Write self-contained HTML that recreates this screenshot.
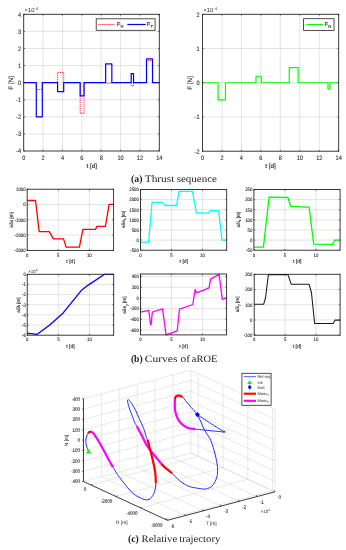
<!DOCTYPE html>
<html><head><meta charset="utf-8"><title>Figure</title>
<style>html,body{margin:0;padding:0;background:#fff;}svg{display:block;filter:blur(0.3px);}</style>
</head><body>
<svg width="346" height="550" viewBox="0 0 346 550" font-family="'Liberation Sans', Arial, sans-serif" text-rendering="geometricPrecision">
<rect width="346" height="550" fill="#fff"/>
<path d="M43.07 14.3V151M62.44 14.3V151M81.81 14.3V151M101.19 14.3V151M120.56 14.3V151M139.93 14.3V151M23.7 133.91H159.3M23.7 116.83H159.3M23.7 99.74H159.3M23.7 82.65H159.3M23.7 65.56H159.3M23.7 48.48H159.3M23.7 31.39H159.3" stroke="#d2d2d2" stroke-width="0.6" fill="none"/>
<path d="M23.7 82.65 L36.29 82.65 L36.29 89.49 L42.3 89.49 L42.3 82.65 L57.6 82.65 L57.6 72.4 L63.7 72.4 L63.7 82.65 L80.17 82.65 L80.17 113.41 L84.04 113.41 L84.04 82.65 L105.64 82.65 L105.64 83.16 L111.84 83.16 L111.84 82.65 L131.21 82.65 L131.21 86.07 L133.54 86.07 L133.54 82.65 L146.51 82.65 L146.51 60.44 L152.52 60.44 L152.52 82.65 L159.3 82.65" stroke="#ff0000" stroke-width="0.8" fill="none" stroke-linejoin="round" stroke-dasharray="1.2 0.8"/>
<path d="M23.7 82.65 L36.29 82.65 L36.29 116.83 L42.3 116.83 L42.3 82.65 L57.6 82.65 L57.6 91.54 L63.7 91.54 L63.7 82.65 L80.17 82.65 L80.17 95.81 L84.04 95.81 L84.04 82.65 L105.64 82.65 L105.64 63.85 L111.84 63.85 L111.84 82.65 L131.21 82.65 L131.21 73.59 L133.54 73.59 L133.54 82.65 L146.51 82.65 L146.51 58.9 L152.52 58.9 L152.52 82.65 L159.3 82.65" stroke="#0000ff" stroke-width="1.2" fill="none" stroke-linejoin="round" />
<path d="M23.7 151v-1.3M23.7 14.3v1.3M43.07 151v-1.3M43.07 14.3v1.3M62.44 151v-1.3M62.44 14.3v1.3M81.81 151v-1.3M81.81 14.3v1.3M101.19 151v-1.3M101.19 14.3v1.3M120.56 151v-1.3M120.56 14.3v1.3M139.93 151v-1.3M139.93 14.3v1.3M159.3 151v-1.3M159.3 14.3v1.3M23.7 151h1.3M159.3 151h-1.3M23.7 133.91h1.3M159.3 133.91h-1.3M23.7 116.83h1.3M159.3 116.83h-1.3M23.7 99.74h1.3M159.3 99.74h-1.3M23.7 82.65h1.3M159.3 82.65h-1.3M23.7 65.56h1.3M159.3 65.56h-1.3M23.7 48.48h1.3M159.3 48.48h-1.3M23.7 31.39h1.3M159.3 31.39h-1.3M23.7 14.3h1.3M159.3 14.3h-1.3" stroke="#262626" stroke-width="0.65" fill="none"/>
<rect x="23.7" y="14.3" width="135.6" height="136.7" stroke="#262626" stroke-width="0.9" fill="none"/>
<text transform="translate(21 153.31) scale(1 1.15)" font-size="5.6" text-anchor="end" fill="#262626" stroke="#262626" stroke-width="0.08">-4</text>
<text transform="translate(21 136.22) scale(1 1.15)" font-size="5.6" text-anchor="end" fill="#262626" stroke="#262626" stroke-width="0.08">-3</text>
<text transform="translate(21 119.13) scale(1 1.15)" font-size="5.6" text-anchor="end" fill="#262626" stroke="#262626" stroke-width="0.08">-2</text>
<text transform="translate(21 102.04) scale(1 1.15)" font-size="5.6" text-anchor="end" fill="#262626" stroke="#262626" stroke-width="0.08">-1</text>
<text transform="translate(21 84.96) scale(1 1.15)" font-size="5.6" text-anchor="end" fill="#262626" stroke="#262626" stroke-width="0.08">0</text>
<text transform="translate(21 67.87) scale(1 1.15)" font-size="5.6" text-anchor="end" fill="#262626" stroke="#262626" stroke-width="0.08">1</text>
<text transform="translate(21 50.78) scale(1 1.15)" font-size="5.6" text-anchor="end" fill="#262626" stroke="#262626" stroke-width="0.08">2</text>
<text transform="translate(21 33.69) scale(1 1.15)" font-size="5.6" text-anchor="end" fill="#262626" stroke="#262626" stroke-width="0.08">3</text>
<text transform="translate(21 16.61) scale(1 1.15)" font-size="5.6" text-anchor="end" fill="#262626" stroke="#262626" stroke-width="0.08">4</text>
<text transform="translate(23.7 159.91) scale(1 1.15)" font-size="5.6" text-anchor="middle" fill="#262626" stroke="#262626" stroke-width="0.08">0</text>
<text transform="translate(43.07 159.91) scale(1 1.15)" font-size="5.6" text-anchor="middle" fill="#262626" stroke="#262626" stroke-width="0.08">2</text>
<text transform="translate(62.44 159.91) scale(1 1.15)" font-size="5.6" text-anchor="middle" fill="#262626" stroke="#262626" stroke-width="0.08">4</text>
<text transform="translate(81.81 159.91) scale(1 1.15)" font-size="5.6" text-anchor="middle" fill="#262626" stroke="#262626" stroke-width="0.08">6</text>
<text transform="translate(101.19 159.91) scale(1 1.15)" font-size="5.6" text-anchor="middle" fill="#262626" stroke="#262626" stroke-width="0.08">8</text>
<text transform="translate(120.56 159.91) scale(1 1.15)" font-size="5.6" text-anchor="middle" fill="#262626" stroke="#262626" stroke-width="0.08">10</text>
<text transform="translate(139.93 159.91) scale(1 1.15)" font-size="5.6" text-anchor="middle" fill="#262626" stroke="#262626" stroke-width="0.08">12</text>
<text transform="translate(159.3 159.91) scale(1 1.15)" font-size="5.6" text-anchor="middle" fill="#262626" stroke="#262626" stroke-width="0.08">14</text>
<text x="24.6" y="11.9" font-size="5.8" fill="#262626">&#215;10<tspan dy="-2.2" font-size="4.2">-4</tspan></text>
<text transform="translate(13.3 82.8) rotate(-90)" font-size="6.3" text-anchor="middle" fill="#262626" stroke="#262626" stroke-width="0.12">F [N]</text>
<text x="91.7" y="168.3" font-size="6.2" text-anchor="middle" fill="#262626" stroke="#262626" stroke-width="0.12">t [d]</text>
<rect x="96.2" y="18.8" width="58.9" height="11.5" fill="#fff" stroke="#262626" stroke-width="0.8"/>
<path d="M98.2 24.5 L114.7 24.5" stroke="#ff0000" stroke-width="0.8" fill="none" stroke-linejoin="round" stroke-dasharray="1.2 0.8"/>
<text x="116.9" y="26.0" font-size="5.9" fill="#262626" stroke="#262626" stroke-width="0.1">F<tspan dy="1.7" font-size="4.3">R</tspan></text>
<path d="M127.4 24.5 L145.8 24.5" stroke="#0000ff" stroke-width="1.2" fill="none" stroke-linejoin="round" />
<text x="146.8" y="26.0" font-size="5.9" fill="#262626" stroke="#262626" stroke-width="0.1">F<tspan dy="1.7" font-size="4.3">T</tspan></text>
<path d="M221.96 14.3V151.2M241.41 14.3V151.2M260.87 14.3V151.2M280.33 14.3V151.2M299.79 14.3V151.2M319.24 14.3V151.2M202.5 116.97H338.7M202.5 82.75H338.7M202.5 48.53H338.7" stroke="#d2d2d2" stroke-width="0.6" fill="none"/>
<path d="M202.5 82.75 L218.07 82.75 L218.07 99.86 L225.46 99.86 L225.46 82.75 L256.01 82.75 L256.01 76.25 L261.26 76.25 L261.26 82.75 L289.28 82.75 L289.28 67.69 L298.13 67.69 L298.13 82.75 L328 82.75 L328 89.25 L329.94 89.25 L329.94 82.75 L338.7 82.75" stroke="#00ff00" stroke-width="1.2" fill="none" stroke-linejoin="round" />
<path d="M202.5 151.2v-1.3M202.5 14.3v1.3M221.96 151.2v-1.3M221.96 14.3v1.3M241.41 151.2v-1.3M241.41 14.3v1.3M260.87 151.2v-1.3M260.87 14.3v1.3M280.33 151.2v-1.3M280.33 14.3v1.3M299.79 151.2v-1.3M299.79 14.3v1.3M319.24 151.2v-1.3M319.24 14.3v1.3M338.7 151.2v-1.3M338.7 14.3v1.3M202.5 151.2h1.3M338.7 151.2h-1.3M202.5 116.97h1.3M338.7 116.97h-1.3M202.5 82.75h1.3M338.7 82.75h-1.3M202.5 48.53h1.3M338.7 48.53h-1.3M202.5 14.3h1.3M338.7 14.3h-1.3" stroke="#262626" stroke-width="0.65" fill="none"/>
<rect x="202.5" y="14.3" width="136.2" height="136.9" stroke="#262626" stroke-width="0.9" fill="none"/>
<text transform="translate(199.6 153.51) scale(1 1.15)" font-size="5.6" text-anchor="end" fill="#262626" stroke="#262626" stroke-width="0.08">-2</text>
<text transform="translate(199.6 119.28) scale(1 1.15)" font-size="5.6" text-anchor="end" fill="#262626" stroke="#262626" stroke-width="0.08">-1</text>
<text transform="translate(199.6 85.06) scale(1 1.15)" font-size="5.6" text-anchor="end" fill="#262626" stroke="#262626" stroke-width="0.08">0</text>
<text transform="translate(199.6 50.83) scale(1 1.15)" font-size="5.6" text-anchor="end" fill="#262626" stroke="#262626" stroke-width="0.08">1</text>
<text transform="translate(199.6 16.61) scale(1 1.15)" font-size="5.6" text-anchor="end" fill="#262626" stroke="#262626" stroke-width="0.08">2</text>
<text transform="translate(202.5 160.21) scale(1 1.15)" font-size="5.6" text-anchor="middle" fill="#262626" stroke="#262626" stroke-width="0.08">0</text>
<text transform="translate(221.96 160.21) scale(1 1.15)" font-size="5.6" text-anchor="middle" fill="#262626" stroke="#262626" stroke-width="0.08">2</text>
<text transform="translate(241.41 160.21) scale(1 1.15)" font-size="5.6" text-anchor="middle" fill="#262626" stroke="#262626" stroke-width="0.08">4</text>
<text transform="translate(260.87 160.21) scale(1 1.15)" font-size="5.6" text-anchor="middle" fill="#262626" stroke="#262626" stroke-width="0.08">6</text>
<text transform="translate(280.33 160.21) scale(1 1.15)" font-size="5.6" text-anchor="middle" fill="#262626" stroke="#262626" stroke-width="0.08">8</text>
<text transform="translate(299.79 160.21) scale(1 1.15)" font-size="5.6" text-anchor="middle" fill="#262626" stroke="#262626" stroke-width="0.08">10</text>
<text transform="translate(319.24 160.21) scale(1 1.15)" font-size="5.6" text-anchor="middle" fill="#262626" stroke="#262626" stroke-width="0.08">12</text>
<text transform="translate(338.7 160.21) scale(1 1.15)" font-size="5.6" text-anchor="middle" fill="#262626" stroke="#262626" stroke-width="0.08">14</text>
<text x="203.4" y="11.9" font-size="5.8" fill="#262626">&#215;10<tspan dy="-2.2" font-size="4.2">-4</tspan></text>
<text transform="translate(191.6 82.9) rotate(-90)" font-size="6.3" text-anchor="middle" fill="#262626" stroke="#262626" stroke-width="0.12">F [N]</text>
<text x="270.5" y="168.3" font-size="6.2" text-anchor="middle" fill="#262626" stroke="#262626" stroke-width="0.12">t [d]</text>
<rect x="303.6" y="18.7" width="30.4" height="11.7" fill="#fff" stroke="#262626" stroke-width="0.8"/>
<path d="M306.2 24.5 L323.1 24.5" stroke="#00ff00" stroke-width="1.2" fill="none" stroke-linejoin="round" />
<text x="324.6" y="26.0" font-size="5.9" fill="#262626" stroke="#262626" stroke-width="0.1">F<tspan dy="1.7" font-size="4.3">N</tspan></text>
<text x="131" y="181.5" font-family="'Liberation Serif', 'Times New Roman', serif" font-size="10" fill="#1c1c1c" stroke="#1c1c1c" stroke-width="0" textLength="11.4" lengthAdjust="spacingAndGlyphs" font-weight="bold">(a)</text>
<text x="144.7" y="181.5" font-family="'Liberation Serif', 'Times New Roman', serif" font-size="10" fill="#1c1c1c" stroke="#1c1c1c" stroke-width="0" textLength="29.7" lengthAdjust="spacingAndGlyphs">Thrust</text>
<text x="176.7" y="181.5" font-family="'Liberation Serif', 'Times New Roman', serif" font-size="10" fill="#1c1c1c" stroke="#1c1c1c" stroke-width="0" textLength="40.3" lengthAdjust="spacingAndGlyphs">sequence</text>
<path d="M58.28 189.2V250.4M89.36 189.2V250.4M27.2 235.1H113.6M27.2 219.8H113.6M27.2 204.5H113.6" stroke="#d2d2d2" stroke-width="0.6" fill="none"/>
<path d="M27.2 200.5 L35.5 200.5 L39.2 231.6 L49.2 231.6 L53.4 238.9 L63.5 238.9 L66.1 247.1 L79.4 247.1 L82.9 229.4 L95.5 229.4 L96.9 226.3 L105.4 226.3 L109.1 204.3 L113.6 204.3" stroke="#ff0000" stroke-width="1.3" fill="none" stroke-linejoin="round" />
<path d="M27.2 250.4v-1.3M27.2 189.2v1.3M58.28 250.4v-1.3M58.28 189.2v1.3M89.36 250.4v-1.3M89.36 189.2v1.3M27.2 250.4h1.3M113.6 250.4h-1.3M27.2 235.1h1.3M113.6 235.1h-1.3M27.2 219.8h1.3M113.6 219.8h-1.3M27.2 204.5h1.3M113.6 204.5h-1.3M27.2 189.2h1.3M113.6 189.2h-1.3" stroke="#262626" stroke-width="0.65" fill="none"/>
<rect x="27.2" y="189.2" width="86.4" height="61.2" stroke="#262626" stroke-width="0.9" fill="none"/>
<text transform="translate(25.6 252.17) scale(1 1.15)" font-size="4.3" text-anchor="end" fill="#262626" stroke="#262626" stroke-width="0.08">-3000</text>
<text transform="translate(25.6 236.87) scale(1 1.15)" font-size="4.3" text-anchor="end" fill="#262626" stroke="#262626" stroke-width="0.08">-2000</text>
<text transform="translate(25.6 221.57) scale(1 1.15)" font-size="4.3" text-anchor="end" fill="#262626" stroke="#262626" stroke-width="0.08">-1000</text>
<text transform="translate(25.6 206.27) scale(1 1.15)" font-size="4.3" text-anchor="end" fill="#262626" stroke="#262626" stroke-width="0.08">0</text>
<text transform="translate(25.6 190.97) scale(1 1.15)" font-size="4.3" text-anchor="end" fill="#262626" stroke="#262626" stroke-width="0.08">1000</text>
<text transform="translate(27.2 256.87) scale(1 1.15)" font-size="4.3" text-anchor="middle" fill="#262626" stroke="#262626" stroke-width="0.08">0</text>
<text transform="translate(58.28 256.87) scale(1 1.15)" font-size="4.3" text-anchor="middle" fill="#262626" stroke="#262626" stroke-width="0.08">5</text>
<text transform="translate(89.36 256.87) scale(1 1.15)" font-size="4.3" text-anchor="middle" fill="#262626" stroke="#262626" stroke-width="0.08">10</text>
<text transform="translate(12.8 219.9) rotate(-90)" font-size="4.7" text-anchor="middle" fill="#262626" stroke="#262626" stroke-width="0.12">a&#948;a [m]</text>
<text x="70.6" y="262.8" font-size="5.1" text-anchor="middle" fill="#262626" stroke="#262626" stroke-width="0.12">t [d]</text>
<path d="M171.51 189.5V250.2M202.51 189.5V250.2M140.5 240.08H226.7M140.5 229.97H226.7M140.5 219.85H226.7M140.5 209.73H226.7M140.5 199.62H226.7" stroke="#d2d2d2" stroke-width="0.6" fill="none"/>
<path d="M140.5 242.2 L148.6 242.2 L152.1 202.3 L162.5 202.3 L164.7 205.5 L176.6 205.5 L179 191.4 L192.5 191.4 L196.4 213.1 L208.5 213.1 L210.4 210.7 L218.6 210.7 L222 240.1 L226.7 240.1" stroke="#00ffff" stroke-width="1.3" fill="none" stroke-linejoin="round" />
<path d="M140.5 250.2v-1.3M140.5 189.5v1.3M171.51 250.2v-1.3M171.51 189.5v1.3M202.51 250.2v-1.3M202.51 189.5v1.3M140.5 250.2h1.3M226.7 250.2h-1.3M140.5 240.08h1.3M226.7 240.08h-1.3M140.5 229.97h1.3M226.7 229.97h-1.3M140.5 219.85h1.3M226.7 219.85h-1.3M140.5 209.73h1.3M226.7 209.73h-1.3M140.5 199.62h1.3M226.7 199.62h-1.3M140.5 189.5h1.3M226.7 189.5h-1.3" stroke="#262626" stroke-width="0.65" fill="none"/>
<rect x="140.5" y="189.5" width="86.2" height="60.7" stroke="#262626" stroke-width="0.9" fill="none"/>
<text transform="translate(138.9 251.97) scale(1 1.15)" font-size="4.3" text-anchor="end" fill="#262626" stroke="#262626" stroke-width="0.08">-500</text>
<text transform="translate(138.9 241.85) scale(1 1.15)" font-size="4.3" text-anchor="end" fill="#262626" stroke="#262626" stroke-width="0.08">0</text>
<text transform="translate(138.9 231.74) scale(1 1.15)" font-size="4.3" text-anchor="end" fill="#262626" stroke="#262626" stroke-width="0.08">500</text>
<text transform="translate(138.9 221.62) scale(1 1.15)" font-size="4.3" text-anchor="end" fill="#262626" stroke="#262626" stroke-width="0.08">1000</text>
<text transform="translate(138.9 211.5) scale(1 1.15)" font-size="4.3" text-anchor="end" fill="#262626" stroke="#262626" stroke-width="0.08">1500</text>
<text transform="translate(138.9 201.39) scale(1 1.15)" font-size="4.3" text-anchor="end" fill="#262626" stroke="#262626" stroke-width="0.08">2000</text>
<text transform="translate(138.9 191.27) scale(1 1.15)" font-size="4.3" text-anchor="end" fill="#262626" stroke="#262626" stroke-width="0.08">2500</text>
<text transform="translate(140.5 256.87) scale(1 1.15)" font-size="4.3" text-anchor="middle" fill="#262626" stroke="#262626" stroke-width="0.08">0</text>
<text transform="translate(171.51 256.87) scale(1 1.15)" font-size="4.3" text-anchor="middle" fill="#262626" stroke="#262626" stroke-width="0.08">5</text>
<text transform="translate(202.51 256.87) scale(1 1.15)" font-size="4.3" text-anchor="middle" fill="#262626" stroke="#262626" stroke-width="0.08">10</text>
<text transform="translate(124.8 219.4) rotate(-90)" font-size="4.7" text-anchor="middle" fill="#262626" stroke="#262626" stroke-width="0.12">a&#948;e<tspan dy="1.4" font-size="3.3">x</tspan><tspan dy="-1.4"> [m]</tspan></text>
<text x="183.8" y="262.8" font-size="5.1" text-anchor="middle" fill="#262626" stroke="#262626" stroke-width="0.12">t [d]</text>
<path d="M284.91 189.5V250.2M315.91 189.5V250.2M253.9 240.08H340.1M253.9 229.97H340.1M253.9 219.85H340.1M253.9 209.73H340.1M253.9 199.62H340.1" stroke="#d2d2d2" stroke-width="0.6" fill="none"/>
<path d="M253.9 247.1 L263.4 247.1 L269.1 197.1 L287.9 197.5 L290.7 206.3 L309.1 207.2 L313.7 244.1 L332.8 244.3 L334.6 240.1 L340.1 240.1" stroke="#00ff00" stroke-width="1.3" fill="none" stroke-linejoin="round" />
<path d="M253.9 250.2v-1.3M253.9 189.5v1.3M284.91 250.2v-1.3M284.91 189.5v1.3M315.91 250.2v-1.3M315.91 189.5v1.3M253.9 250.2h1.3M340.1 250.2h-1.3M253.9 240.08h1.3M340.1 240.08h-1.3M253.9 229.97h1.3M340.1 229.97h-1.3M253.9 219.85h1.3M340.1 219.85h-1.3M253.9 209.73h1.3M340.1 209.73h-1.3M253.9 199.62h1.3M340.1 199.62h-1.3M253.9 189.5h1.3M340.1 189.5h-1.3" stroke="#262626" stroke-width="0.65" fill="none"/>
<rect x="253.9" y="189.5" width="86.2" height="60.7" stroke="#262626" stroke-width="0.9" fill="none"/>
<text transform="translate(252.3 251.97) scale(1 1.15)" font-size="4.3" text-anchor="end" fill="#262626" stroke="#262626" stroke-width="0.08">-50</text>
<text transform="translate(252.3 241.85) scale(1 1.15)" font-size="4.3" text-anchor="end" fill="#262626" stroke="#262626" stroke-width="0.08">0</text>
<text transform="translate(252.3 231.74) scale(1 1.15)" font-size="4.3" text-anchor="end" fill="#262626" stroke="#262626" stroke-width="0.08">50</text>
<text transform="translate(252.3 221.62) scale(1 1.15)" font-size="4.3" text-anchor="end" fill="#262626" stroke="#262626" stroke-width="0.08">100</text>
<text transform="translate(252.3 211.5) scale(1 1.15)" font-size="4.3" text-anchor="end" fill="#262626" stroke="#262626" stroke-width="0.08">150</text>
<text transform="translate(252.3 201.39) scale(1 1.15)" font-size="4.3" text-anchor="end" fill="#262626" stroke="#262626" stroke-width="0.08">200</text>
<text transform="translate(252.3 191.27) scale(1 1.15)" font-size="4.3" text-anchor="end" fill="#262626" stroke="#262626" stroke-width="0.08">250</text>
<text transform="translate(253.9 256.87) scale(1 1.15)" font-size="4.3" text-anchor="middle" fill="#262626" stroke="#262626" stroke-width="0.08">0</text>
<text transform="translate(284.91 256.87) scale(1 1.15)" font-size="4.3" text-anchor="middle" fill="#262626" stroke="#262626" stroke-width="0.08">5</text>
<text transform="translate(315.91 256.87) scale(1 1.15)" font-size="4.3" text-anchor="middle" fill="#262626" stroke="#262626" stroke-width="0.08">10</text>
<text transform="translate(239.9 219.7) rotate(-90)" font-size="4.7" text-anchor="middle" fill="#262626" stroke="#262626" stroke-width="0.12">a&#948;i<tspan dy="1.4" font-size="3.3">x</tspan><tspan dy="-1.4"> [m]</tspan></text>
<text x="297.2" y="262.8" font-size="5.1" text-anchor="middle" fill="#262626" stroke="#262626" stroke-width="0.12">t [d]</text>
<path d="M58.32 274.3V335.2M89.43 274.3V335.2M27.2 325.05H113.7M27.2 314.9H113.7M27.2 304.75H113.7M27.2 294.6H113.7M27.2 284.45H113.7" stroke="#d2d2d2" stroke-width="0.6" fill="none"/>
<path d="M27.2 333.1 L36.9 334.4 L50 324.7 L63.2 312.9 L81.4 290.3 L89 284.6 L104.6 274.3 L113.7 274.3" stroke="#0000ff" stroke-width="1.3" fill="none" stroke-linejoin="round" />
<path d="M27.2 335.2v-1.3M27.2 274.3v1.3M58.32 335.2v-1.3M58.32 274.3v1.3M89.43 335.2v-1.3M89.43 274.3v1.3M27.2 335.2h1.3M113.7 335.2h-1.3M27.2 325.05h1.3M113.7 325.05h-1.3M27.2 314.9h1.3M113.7 314.9h-1.3M27.2 304.75h1.3M113.7 304.75h-1.3M27.2 294.6h1.3M113.7 294.6h-1.3M27.2 284.45h1.3M113.7 284.45h-1.3M27.2 274.3h1.3M113.7 274.3h-1.3" stroke="#262626" stroke-width="0.65" fill="none"/>
<rect x="27.2" y="274.3" width="86.5" height="60.9" stroke="#262626" stroke-width="0.9" fill="none"/>
<text transform="translate(25.8 336.97) scale(1 1.15)" font-size="4.3" text-anchor="end" fill="#262626" stroke="#262626" stroke-width="0.08">-6</text>
<text transform="translate(25.8 326.82) scale(1 1.15)" font-size="4.3" text-anchor="end" fill="#262626" stroke="#262626" stroke-width="0.08">-5</text>
<text transform="translate(25.8 316.67) scale(1 1.15)" font-size="4.3" text-anchor="end" fill="#262626" stroke="#262626" stroke-width="0.08">-4</text>
<text transform="translate(25.8 306.52) scale(1 1.15)" font-size="4.3" text-anchor="end" fill="#262626" stroke="#262626" stroke-width="0.08">-3</text>
<text transform="translate(25.8 296.37) scale(1 1.15)" font-size="4.3" text-anchor="end" fill="#262626" stroke="#262626" stroke-width="0.08">-2</text>
<text transform="translate(25.8 286.22) scale(1 1.15)" font-size="4.3" text-anchor="end" fill="#262626" stroke="#262626" stroke-width="0.08">-1</text>
<text transform="translate(25.8 276.07) scale(1 1.15)" font-size="4.3" text-anchor="end" fill="#262626" stroke="#262626" stroke-width="0.08">0</text>
<text transform="translate(27.2 341.47) scale(1 1.15)" font-size="4.3" text-anchor="middle" fill="#262626" stroke="#262626" stroke-width="0.08">0</text>
<text transform="translate(58.32 341.47) scale(1 1.15)" font-size="4.3" text-anchor="middle" fill="#262626" stroke="#262626" stroke-width="0.08">5</text>
<text transform="translate(89.43 341.47) scale(1 1.15)" font-size="4.3" text-anchor="middle" fill="#262626" stroke="#262626" stroke-width="0.08">10</text>
<text transform="translate(20.4 305) rotate(-90)" font-size="4.7" text-anchor="middle" fill="#262626" stroke="#262626" stroke-width="0.12">a&#948;&#955; [m]</text>
<text x="70.4" y="347.6" font-size="5.1" text-anchor="middle" fill="#262626" stroke="#262626" stroke-width="0.12">t [d]</text>
<text x="28.2" y="273.0" font-size="4.5" fill="#262626">&#215;10<tspan dy="-1.8" font-size="3.4">4</tspan></text>
<path d="M171.47 274V334.9M202.44 274V334.9M140.5 329.99H226.6M140.5 319.31H226.6M140.5 308.64H226.6M140.5 297.97H226.6M140.5 287.29H226.6M140.5 276.62H226.6" stroke="#d2d2d2" stroke-width="0.6" fill="none"/>
<path d="M140.5 312.2 L148.8 310.3 L149.6 316.5 L150.2 322.5 L150.8 325 L151.4 322.5 L151.9 316 L152.4 312 L162.5 308.9 L166.1 334.9 L177.2 330.8 L179.5 309.1 L192.8 304.5 L195.1 289.4 L196.6 292.8 L209.1 287.9 L210.5 279.1 L219.1 274.2 L222.3 299.4 L226.6 297.9" stroke="#ff00ff" stroke-width="1.3" fill="none" stroke-linejoin="round" />
<path d="M140.5 334.9v-1.3M140.5 274v1.3M171.47 334.9v-1.3M171.47 274v1.3M202.44 334.9v-1.3M202.44 274v1.3M140.5 329.99h1.3M226.6 329.99h-1.3M140.5 319.31h1.3M226.6 319.31h-1.3M140.5 308.64h1.3M226.6 308.64h-1.3M140.5 297.97h1.3M226.6 297.97h-1.3M140.5 287.29h1.3M226.6 287.29h-1.3M140.5 276.62h1.3M226.6 276.62h-1.3" stroke="#262626" stroke-width="0.65" fill="none"/>
<rect x="140.5" y="274" width="86.1" height="60.9" stroke="#262626" stroke-width="0.9" fill="none"/>
<text transform="translate(138.9 331.76) scale(1 1.15)" font-size="4.3" text-anchor="end" fill="#262626" stroke="#262626" stroke-width="0.08">-600</text>
<text transform="translate(138.9 321.09) scale(1 1.15)" font-size="4.3" text-anchor="end" fill="#262626" stroke="#262626" stroke-width="0.08">-400</text>
<text transform="translate(138.9 310.41) scale(1 1.15)" font-size="4.3" text-anchor="end" fill="#262626" stroke="#262626" stroke-width="0.08">-200</text>
<text transform="translate(138.9 299.74) scale(1 1.15)" font-size="4.3" text-anchor="end" fill="#262626" stroke="#262626" stroke-width="0.08">0</text>
<text transform="translate(138.9 289.06) scale(1 1.15)" font-size="4.3" text-anchor="end" fill="#262626" stroke="#262626" stroke-width="0.08">200</text>
<text transform="translate(138.9 278.39) scale(1 1.15)" font-size="4.3" text-anchor="end" fill="#262626" stroke="#262626" stroke-width="0.08">400</text>
<text transform="translate(140.5 341.47) scale(1 1.15)" font-size="4.3" text-anchor="middle" fill="#262626" stroke="#262626" stroke-width="0.08">0</text>
<text transform="translate(171.47 341.47) scale(1 1.15)" font-size="4.3" text-anchor="middle" fill="#262626" stroke="#262626" stroke-width="0.08">5</text>
<text transform="translate(202.44 341.47) scale(1 1.15)" font-size="4.3" text-anchor="middle" fill="#262626" stroke="#262626" stroke-width="0.08">10</text>
<text transform="translate(126.4 305.2) rotate(-90)" font-size="4.7" text-anchor="middle" fill="#262626" stroke="#262626" stroke-width="0.12">a&#948;e<tspan dy="1.4" font-size="3.3">y</tspan><tspan dy="-1.4"> [m]</tspan></text>
<text x="183.6" y="347.6" font-size="5.1" text-anchor="middle" fill="#262626" stroke="#262626" stroke-width="0.12">t [d]</text>
<path d="M285.1 274.3V335.2M316 274.3V335.2M254.2 319.98H340.1M254.2 304.75H340.1M254.2 289.52H340.1" stroke="#d2d2d2" stroke-width="0.6" fill="none"/>
<path d="M254.2 304.2 L263.7 304.2 L265.5 298 L268.4 274.6 L288 274.6 L291.1 284.2 L309.1 284.2 L311.5 293 L314.6 323.4 L333.2 323.4 L335.1 320.1 L340.1 320.1" stroke="#1a1a1a" stroke-width="1.05" fill="none" stroke-linejoin="round" />
<path d="M254.2 335.2v-1.3M254.2 274.3v1.3M285.1 335.2v-1.3M285.1 274.3v1.3M316 335.2v-1.3M316 274.3v1.3M254.2 335.2h1.3M340.1 335.2h-1.3M254.2 319.98h1.3M340.1 319.98h-1.3M254.2 304.75h1.3M340.1 304.75h-1.3M254.2 289.52h1.3M340.1 289.52h-1.3M254.2 274.3h1.3M340.1 274.3h-1.3" stroke="#262626" stroke-width="0.65" fill="none"/>
<rect x="254.2" y="274.3" width="85.9" height="60.9" stroke="#262626" stroke-width="0.9" fill="none"/>
<text transform="translate(252.3 336.97) scale(1 1.15)" font-size="4.3" text-anchor="end" fill="#262626" stroke="#262626" stroke-width="0.08">-100</text>
<text transform="translate(252.3 321.75) scale(1 1.15)" font-size="4.3" text-anchor="end" fill="#262626" stroke="#262626" stroke-width="0.08">0</text>
<text transform="translate(252.3 306.52) scale(1 1.15)" font-size="4.3" text-anchor="end" fill="#262626" stroke="#262626" stroke-width="0.08">100</text>
<text transform="translate(252.3 291.3) scale(1 1.15)" font-size="4.3" text-anchor="end" fill="#262626" stroke="#262626" stroke-width="0.08">200</text>
<text transform="translate(252.3 276.07) scale(1 1.15)" font-size="4.3" text-anchor="end" fill="#262626" stroke="#262626" stroke-width="0.08">300</text>
<text transform="translate(254.2 341.47) scale(1 1.15)" font-size="4.3" text-anchor="middle" fill="#262626" stroke="#262626" stroke-width="0.08">0</text>
<text transform="translate(285.1 341.47) scale(1 1.15)" font-size="4.3" text-anchor="middle" fill="#262626" stroke="#262626" stroke-width="0.08">5</text>
<text transform="translate(316 341.47) scale(1 1.15)" font-size="4.3" text-anchor="middle" fill="#262626" stroke="#262626" stroke-width="0.08">10</text>
<text transform="translate(238.5 304.4) rotate(-90)" font-size="4.7" text-anchor="middle" fill="#262626" stroke="#262626" stroke-width="0.12">a&#948;i<tspan dy="1.4" font-size="3.3">y</tspan><tspan dy="-1.4"> [m]</tspan></text>
<text x="297" y="347.6" font-size="5.1" text-anchor="middle" fill="#262626" stroke="#262626" stroke-width="0.12">t [d]</text>
<text x="130.9" y="361.8" font-family="'Liberation Serif', 'Times New Roman', serif" font-size="10" fill="#1c1c1c" stroke="#1c1c1c" stroke-width="0" textLength="11.7" lengthAdjust="spacingAndGlyphs" font-weight="bold">(b)</text>
<text x="144.7" y="361.8" font-family="'Liberation Serif', 'Times New Roman', serif" font-size="10" fill="#1c1c1c" stroke="#1c1c1c" stroke-width="0" textLength="32.8" lengthAdjust="spacingAndGlyphs">Curves</text>
<text x="180.6" y="361.8" font-family="'Liberation Serif', 'Times New Roman', serif" font-size="10" fill="#1c1c1c" stroke="#1c1c1c" stroke-width="0" textLength="9.6" lengthAdjust="spacingAndGlyphs">of</text>
<text x="191.8" y="361.8" font-family="'Liberation Serif', 'Times New Roman', serif" font-size="10" fill="#1c1c1c" stroke="#1c1c1c" stroke-width="0" textLength="25.6" lengthAdjust="spacingAndGlyphs">aROE</text>
<path d="M101.4 476.75L101.4 393.95M119.3 472L119.3 389.2M137.2 467.25L137.2 384.45M155.1 462.5L155.1 379.7M173 457.75L173 374.95M190.9 453L190.9 370.2M83.5 481.5L190.9 453M83.5 471.15L190.9 442.65M83.5 460.8L190.9 432.3M83.5 450.45L190.9 421.95M83.5 440.1L190.9 411.6M83.5 429.75L190.9 401.25M83.5 419.4L190.9 390.9M83.5 409.05L190.9 380.55M83.5 398.7L190.9 370.2M198.29 456.41L198.29 373.61M223.07 467.86L223.07 385.06M247.85 479.31L247.85 396.51M272.63 490.75L272.63 407.95M190.9 453L274.9 491.8M190.9 442.65L274.9 481.45M190.9 432.3L274.9 471.1M190.9 421.95L274.9 460.75M190.9 411.6L274.9 450.4M190.9 401.25L274.9 440.05M190.9 390.9L274.9 429.7M190.9 380.55L274.9 419.35M190.9 370.2L274.9 409M274.9 491.8L274.9 409M101.4 476.75L185.4 515.55M119.3 472L203.3 510.8M137.2 467.25L221.2 506.05M155.1 462.5L239.1 501.3M173 457.75L257 496.55M190.9 453L274.9 491.8M90.89 484.91L198.29 456.41M115.67 496.36L223.07 467.86M140.45 507.81L247.85 479.31M165.23 519.25L272.63 490.75" stroke="#d2d2d2" stroke-width="0.5" fill="none"/>
<path d="M83.5 398.7L83.5 481.5M83.5 481.5L167.5 520.3L274.9 491.8" stroke="#262626" stroke-width="0.9" fill="none" stroke-linejoin="round"/>
<path d="M83.5 481.5h-1.4M83.5 471.15h-1.4M83.5 460.8h-1.4M83.5 450.45h-1.4M83.5 440.1h-1.4M83.5 429.75h-1.4M83.5 419.4h-1.4M83.5 409.05h-1.4M83.5 398.7h-1.4M90.89 484.91l1.5 -0.4M115.67 496.36l1.5 -0.4M140.45 507.81l1.5 -0.4M165.23 519.25l1.5 -0.4M167.5 520.3l-0.7 -1.4M185.4 515.55l-0.7 -1.4M203.3 510.8l-0.7 -1.4M221.2 506.05l-0.7 -1.4M239.1 501.3l-0.7 -1.4M257 496.55l-0.7 -1.4M274.9 491.8l-0.7 -1.4" stroke="#262626" stroke-width="0.7" fill="none"/>
<text transform="translate(80.1 483.35) scale(1 1.15)" font-size="4.5" text-anchor="end" fill="#262626" stroke="#262626" stroke-width="0.08">-400</text>
<text transform="translate(80.1 473) scale(1 1.15)" font-size="4.5" text-anchor="end" fill="#262626" stroke="#262626" stroke-width="0.08">-300</text>
<text transform="translate(80.1 462.65) scale(1 1.15)" font-size="4.5" text-anchor="end" fill="#262626" stroke="#262626" stroke-width="0.08">-200</text>
<text transform="translate(80.1 452.3) scale(1 1.15)" font-size="4.5" text-anchor="end" fill="#262626" stroke="#262626" stroke-width="0.08">-100</text>
<text transform="translate(80.1 441.95) scale(1 1.15)" font-size="4.5" text-anchor="end" fill="#262626" stroke="#262626" stroke-width="0.08">0</text>
<text transform="translate(80.1 431.6) scale(1 1.15)" font-size="4.5" text-anchor="end" fill="#262626" stroke="#262626" stroke-width="0.08">100</text>
<text transform="translate(80.1 421.25) scale(1 1.15)" font-size="4.5" text-anchor="end" fill="#262626" stroke="#262626" stroke-width="0.08">200</text>
<text transform="translate(80.1 410.9) scale(1 1.15)" font-size="4.5" text-anchor="end" fill="#262626" stroke="#262626" stroke-width="0.08">300</text>
<text transform="translate(80.1 400.55) scale(1 1.15)" font-size="4.5" text-anchor="end" fill="#262626" stroke="#262626" stroke-width="0.08">400</text>
<text transform="translate(85 491.15) scale(1 1.15)" font-size="4.5" text-anchor="middle" fill="#262626" stroke="#262626" stroke-width="0.08">0</text>
<text transform="translate(106.5 503.15) scale(1 1.15)" font-size="4.5" text-anchor="middle" fill="#262626" stroke="#262626" stroke-width="0.08">-2000</text>
<text transform="translate(131.7 514.85) scale(1 1.15)" font-size="4.5" text-anchor="middle" fill="#262626" stroke="#262626" stroke-width="0.08">-4000</text>
<text transform="translate(156.8 526.65) scale(1 1.15)" font-size="4.5" text-anchor="middle" fill="#262626" stroke="#262626" stroke-width="0.08">-6000</text>
<text transform="translate(172.3 527.55) scale(1 1.15)" font-size="4.5" text-anchor="middle" fill="#262626" stroke="#262626" stroke-width="0.08">-6</text>
<text transform="translate(190.2 522.8) scale(1 1.15)" font-size="4.5" text-anchor="middle" fill="#262626" stroke="#262626" stroke-width="0.08">-5</text>
<text transform="translate(208.1 518.05) scale(1 1.15)" font-size="4.5" text-anchor="middle" fill="#262626" stroke="#262626" stroke-width="0.08">-4</text>
<text transform="translate(226 513.3) scale(1 1.15)" font-size="4.5" text-anchor="middle" fill="#262626" stroke="#262626" stroke-width="0.08">-3</text>
<text transform="translate(243.9 508.55) scale(1 1.15)" font-size="4.5" text-anchor="middle" fill="#262626" stroke="#262626" stroke-width="0.08">-2</text>
<text transform="translate(261.8 503.8) scale(1 1.15)" font-size="4.5" text-anchor="middle" fill="#262626" stroke="#262626" stroke-width="0.08">-1</text>
<text transform="translate(279.7 499.05) scale(1 1.15)" font-size="4.5" text-anchor="middle" fill="#262626" stroke="#262626" stroke-width="0.08">0</text>
<text x="265.4" y="513.0" font-size="4.5" text-anchor="middle" fill="#262626">&#215;10<tspan dy="-1.7" font-size="3.4">4</tspan></text>
<text transform="translate(68 440.4) rotate(-90)" font-size="4.9" text-anchor="middle" fill="#262626">N [m]</text>
<text x="121.8" y="523.9" font-size="4.9" text-anchor="middle" fill="#262626">R [m]</text>
<text x="211.2" y="524.6" font-size="4.9" text-anchor="middle" fill="#262626">T [m]</text>
<path d="M88.2 450.5 C87.93 449.75 87 447.5 86.6 446 C86.2 444.5 85.83 443 85.8 441.5 C85.77 440 86.03 438.38 86.4 437 C86.77 435.62 87.73 433.83 88 433.2" stroke="#2a2aff" stroke-width="1.0" fill="none" stroke-linecap="butt" stroke-linejoin="round"/>
<path d="M113 467.3 C113.75 468.5 115.92 472.18 117.5 474.5 C119.08 476.82 119.92 478.05 122.5 481.2 C125.08 484.35 129.38 490.37 133 493.4 C136.62 496.43 141.32 498.53 144.2 499.4 C147.08 500.27 148.57 499.9 150.3 498.6 C152.03 497.3 153.67 494.12 154.6 491.6 C155.53 489.08 155.68 484.85 155.9 483.5" stroke="#2a2aff" stroke-width="1.0" fill="none" stroke-linecap="butt" stroke-linejoin="round"/>
<path d="M147.5 439.5 C147.32 439.13 147.05 439.15 146.4 437.3 C145.75 435.45 144.82 431.55 143.6 428.4 C142.38 425.25 140.45 421.43 139.1 418.4 C137.75 415.37 136.72 412.63 135.5 410.2 C134.28 407.77 132.83 405.45 131.8 403.8 C130.77 402.15 129.93 400.97 129.3 400.3 C128.67 399.63 128.3 399.68 128 399.8 C127.7 399.92 127.32 399.72 127.5 401 C127.68 402.28 128.38 405.22 129.1 407.5 C129.82 409.78 130.9 412.28 131.8 414.7 C132.7 417.12 133.67 420.1 134.5 422 C135.33 423.9 136.42 425.42 136.8 426.1" stroke="#2a2aff" stroke-width="1.0" fill="none" stroke-linecap="butt" stroke-linejoin="round"/>
<path d="M172.1 473.2 C173.4 474.5 177.15 478.83 179.9 481 C182.65 483.17 185.77 485.02 188.6 486.2 C191.43 487.38 194.07 487.63 196.9 488.1 C199.73 488.57 203 489.43 205.6 489 C208.2 488.57 210.62 487.53 212.5 485.5 C214.38 483.47 216.08 479.98 216.9 476.8 C217.72 473.62 217.7 470.15 217.4 466.4 C217.1 462.65 216.2 458.63 215.1 454.3 C214 449.97 212.53 444.4 210.8 440.4 C209.07 436.4 206.88 434.45 204.7 430.3 C202.52 426.15 200.3 419.72 197.7 415.5 C195.1 411.28 191.63 408.1 189.1 405 C186.57 401.9 183.6 398.25 182.5 396.9" stroke="#2a2aff" stroke-width="1.0" fill="none" stroke-linecap="butt" stroke-linejoin="round"/>
<path d="M195.1 429.1 C197.57 429.35 205.12 430.12 209.9 430.6 C214.68 431.08 221.48 431.77 223.8 432" stroke="#2a2aff" stroke-width="1.0" fill="none" stroke-linecap="butt" stroke-linejoin="round"/>
<path d="M224 431.8 C222.22 430.68 217.68 427.9 213.3 425.1 C208.92 422.3 200.3 416.68 197.7 415" stroke="#2a2aff" stroke-width="1.0" fill="none" stroke-linecap="butt" stroke-linejoin="round"/>
<path d="M91.2 431.7 C91.65 432.07 92.35 431.77 93.9 433.9 C95.45 436.03 98 440.15 100.5 444.5 C103 448.85 106.82 456.2 108.9 460 C110.98 463.8 112.32 466.08 113 467.3" stroke="#ff00ff" stroke-width="2.2" fill="none" stroke-linecap="butt" stroke-linejoin="round"/>
<path d="M136.8 426.2 C137.58 427.67 139.97 432.03 141.5 435 C143.03 437.97 144.58 441.5 146 444 C147.42 446.5 148.5 448 150 450 C151.5 452 153.17 453.75 155 456 C156.83 458.25 160 462.25 161 463.5" stroke="#ff00ff" stroke-width="2.2" fill="none" stroke-linecap="butt" stroke-linejoin="round"/>
<path d="M174.9 399.8 C174.95 401.7 174.43 407.57 175.2 411.2 C175.97 414.83 177.48 418.85 179.5 421.6 C181.52 424.35 184.7 426.45 187.3 427.7 C189.9 428.95 193.8 428.87 195.1 429.1" stroke="#ff00ff" stroke-width="2.2" fill="none" stroke-linecap="butt" stroke-linejoin="round"/>
<path d="M88 433.2 C88.23 432.98 88.87 432.15 89.4 431.9 C89.93 431.65 90.9 431.73 91.2 431.7" stroke="#ff0000" stroke-width="2.2" fill="none" stroke-linecap="butt" stroke-linejoin="round"/>
<path d="M155.9 483.5 C155.88 483.33 155.87 483.92 155.8 482.5 C155.73 481.08 155.72 477.42 155.5 475 C155.28 472.58 155 470.67 154.5 468 C154 465.33 153.25 462.17 152.5 459 C151.75 455.83 150.83 452.25 150 449 C149.17 445.75 147.92 441.08 147.5 439.5" stroke="#ff0000" stroke-width="2.2" fill="none" stroke-linecap="butt" stroke-linejoin="round"/>
<path d="M161 463.5 C161.83 464.32 164.15 466.78 166 468.4 C167.85 470.02 171.08 472.4 172.1 473.2" stroke="#ff0000" stroke-width="2.2" fill="none" stroke-linecap="butt" stroke-linejoin="round"/>
<path d="M182.5 396.9 C182 396.7 180.43 395.88 179.5 395.7 C178.57 395.52 177.6 395.48 176.9 395.8 C176.2 396.12 175.63 396.93 175.3 397.6 C174.97 398.27 174.97 399.43 174.9 399.8" stroke="#ff0000" stroke-width="2.2" fill="none" stroke-linecap="butt" stroke-linejoin="round"/>
<path d="M223.2 431.5 C223.48 431.57 224.62 431.83 224.9 431.9" stroke="#ff0000" stroke-width="2.2" fill="none" stroke-linecap="butt" stroke-linejoin="round"/>
<polygon points="88.5,448.6 86.0,453.6 91.0,453.6" fill="#00ff00"/>
<polygon points="197.4,411.9 199.8,414.6 197.4,417.3 195.0,414.6" fill="#0000ff"/>
<rect x="241.9" y="373.3" width="29.2" height="32" fill="#fff" stroke="#262626" stroke-width="0.8"/>
<path d="M243.7 376.7 L256 376.7" stroke="#2a2aff" stroke-width="0.8" fill="none" stroke-linejoin="round" />
<polygon points="249.5,379.9 247.2,383.9 251.8,383.9" fill="#00ff00"/>
<polygon points="249.7,384.6 251.5,387.2 249.7,389.8 247.9,387.2" fill="#0000ff"/>
<path d="M243.7 393.7 L256 393.7" stroke="#ff0000" stroke-width="2.1" fill="none" stroke-linejoin="round" />
<path d="M243.7 400.8 L256 400.8" stroke="#ff00ff" stroke-width="2.1" fill="none" stroke-linejoin="round" />
<text x="257.4" y="378.13" font-size="4.0" fill="#262626">Rel-traj</text>
<text x="257.4" y="383.63" font-size="4.0" fill="#262626">Init</text>
<text x="257.4" y="388.83" font-size="4.0" fill="#262626">End</text>
<text x="257.4" y="395.03" font-size="4.0" fill="#262626">Manu<tspan dy="0.9" font-size="2.5">1</tspan></text>
<text x="257.4" y="402.03" font-size="4.0" fill="#262626">Manu<tspan dy="0.9" font-size="2.5">2</tspan></text>
<text x="128" y="541.8" font-family="'Liberation Serif', 'Times New Roman', serif" font-size="10" fill="#1c1c1c" stroke="#1c1c1c" stroke-width="0" textLength="10.7" lengthAdjust="spacingAndGlyphs" font-weight="bold">(c)</text>
<text x="141.5" y="541.8" font-family="'Liberation Serif', 'Times New Roman', serif" font-size="10" fill="#1c1c1c" stroke="#1c1c1c" stroke-width="0" textLength="35.7" lengthAdjust="spacingAndGlyphs">Relative</text>
<text x="179.2" y="541.8" font-family="'Liberation Serif', 'Times New Roman', serif" font-size="10" fill="#1c1c1c" stroke="#1c1c1c" stroke-width="0" textLength="41.3" lengthAdjust="spacingAndGlyphs">trajectory</text>
</svg>
</body></html>
